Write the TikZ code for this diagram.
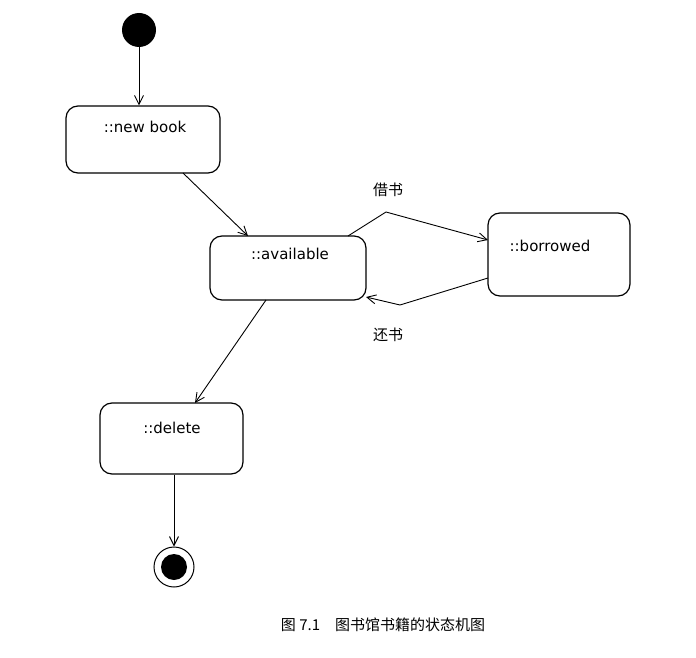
\documentclass[tikz,border=0pt]{standalone}
\usepackage{fontspec}
\setmainfont{DejaVu Sans}
\newfontfamily\cjk{Noto Sans CJK SC}
\usetikzlibrary{arrows.meta}
\begin{document}
\begin{tikzpicture}[x=1pt,y=-1pt,
  st/.style={draw,line width=1.2pt,rounded corners=12pt,inner sep=0pt},
  lbl/.style={font=\fontsize{15}{18}\selectfont},
  arr/.style={draw,line width=0.9pt,-{Straight Barb[length=9pt,width=9pt]}}]
\useasboundingbox (0,0) rectangle (696,658);
\node[circle,fill=black,minimum size=34pt,inner sep=0pt] (start) at (139,30) {};
\node[st,minimum width=154pt,minimum height=67pt] (nb) at (143,139.5) {};
\node[lbl] at (145,127) {::new book};
\node[st,minimum width=156pt,minimum height=64pt] (av) at (288,268) {};
\node[lbl] at (290,254) {::available};
\node[st,minimum width=142pt,minimum height=83pt] (bo) at (559,254.5) {};
\node[lbl] at (550,246) {::borrowed};
\node[st,minimum width=143pt,minimum height=71pt] (de) at (171.5,438.5) {};
\node[lbl] at (172,428) {::delete};
\node[circle,draw,line width=1pt,minimum size=40pt,inner sep=0pt] (end) at (174,567) {};
\node[circle,fill=black,minimum size=26pt,inner sep=0pt] at (end) {};
\coordinate (c1) at (386,212);
\coordinate (c2) at (400,305);
\draw[arr] (start) -- (nb.north -| start);
\draw[arr] (183,173) -- (248,236);
\draw[arr] (348,236) -- (c1) -- (488,240);
\draw[arr] (488,278) -- (c2) -- (366,297);
\draw[arr] (266,300) -- (195,403);
\draw[arr] (de.south -| end) -- (end);
\node[font=\cjk\fontsize{15}{18}\selectfont] at (388,190) {借书};
\node[font=\cjk\fontsize{15}{18}\selectfont] at (388,335) {还书};
\node[font=\cjk\fontsize{15}{18}\selectfont] at (383,625) {图 7.1\quad 图书馆书籍的状态机图};
\end{tikzpicture}
\end{document}
